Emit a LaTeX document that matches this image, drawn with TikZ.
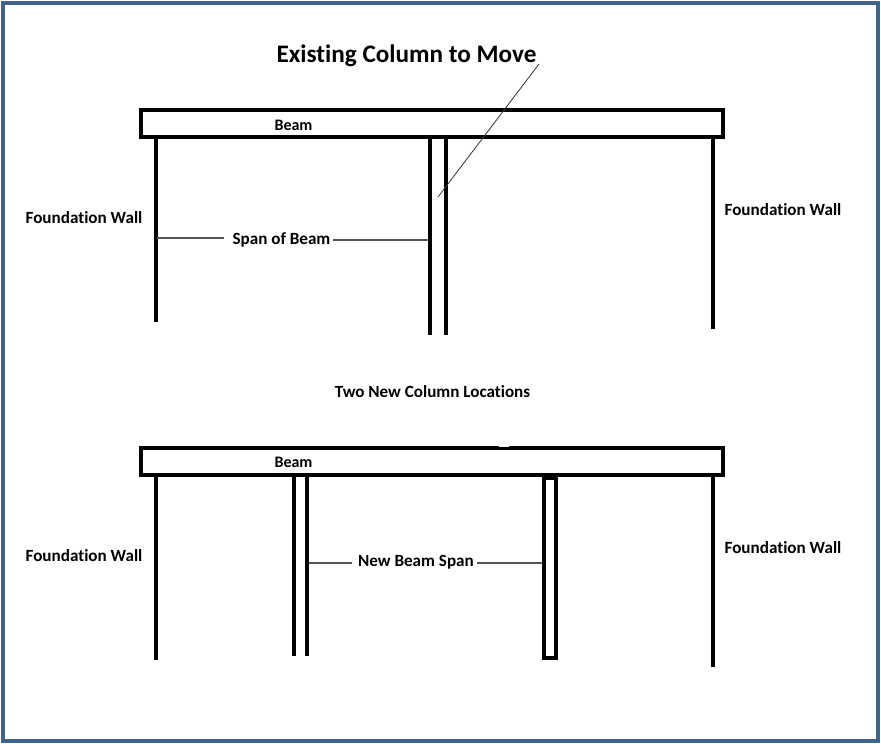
\documentclass[tikz,border=0pt]{standalone}
\usepackage{fontspec}
\setmainfont[Ligatures=NoCommon]{Carlito}
\definecolor{frameblue}{HTML}{41658A}
\definecolor{leadergrey}{HTML}{555555}
\tikzset{
  x=1pt,y=-1pt,
  frameline/.style={draw=frameblue,line width=4pt},
  beambox/.style={draw=black,line width=4pt,minimum width=582pt,minimum height=27pt,inner sep=0pt,anchor=north west},
  wallline/.style={draw=black,line width=4pt},
  colline/.style={draw=black,line width=4pt},
  colbox/.style={draw=black,line width=4pt,fill=white,inner sep=0pt,minimum width=12pt,minimum height=180pt,anchor=north west},
  leader/.style={draw=leadergrey,line width=1.1pt},
  slant/.style={draw=black!80,line width=.8pt},
  lab/.style={font=\fontsize{17.1}{19}\selectfont\bfseries,inner sep=0pt,text=black},
  beamlab/.style={lab,font=\fontsize{16}{18}\selectfont\bfseries},
  titlelab/.style={font=\fontsize{25.2}{28}\selectfont\bfseries,inner sep=0pt,text=black}
}
\begin{document}
\begin{tikzpicture}
\useasboundingbox (0,0) rectangle (881,744);
\fill[white] (0,0) rectangle (881,744);
\draw[frameline] (3,3) rectangle (878,741);

% Upper diagram
\node[beambox] (beamA) at (139,108) {};
\node[beamlab] (beamAlab) at (293.5,125) {Beam};
\node[titlelab] (title) at (406.5,55.5) {Existing Column to Move};
\coordinate (wallAa) at (155.5,138);  \coordinate (wallAb) at (155.5,322);
\coordinate (wallBa) at (712.5,138);  \coordinate (wallBb) at (712.5,329);
\coordinate (colAa) at (430,138);     \coordinate (colAb) at (430,335);
\coordinate (colBa) at (445.7,138);   \coordinate (colBb) at (445.7,335);
\draw[wallline] (wallAa) -- (wallAb);
\draw[wallline] (wallBa) -- (wallBb);
\draw[colline] (colAa) -- (colAb);
\draw[colline] (colBa) -- (colBb);
\node[lab] (fwA) at (84,218) {Foundation Wall};
\node[lab] (fwB) at (783,210) {Foundation Wall};
\node[lab] (span) at (281.5,240) {Span of Beam};
\coordinate (spanL) at (157,238);
\coordinate (spanLend) at (224,238);
\coordinate (spanR) at (428,240);
\coordinate (spanRend) at (333,240);
\draw[leader] (spanL) -- (spanLend);
\draw[leader] (spanRend) -- (spanR);
\coordinate (slantEnd) at (438,197);
\coordinate (slantStart) at (539,64);
\draw[slant] (slantStart) -- (slantEnd);

\node[lab] (twonew) at (432.5,392) {Two New Column Locations};

% Lower diagram
\node[beambox,minimum height=26.5pt] (beamB) at (139,446) {};
\draw[white,line width=1.5pt] (499,446.2) -- (509,446.2);
\node[beamlab] (beamBlab) at (293.5,462) {Beam};
\coordinate (wallCa) at (155.5,475);  \coordinate (wallCb) at (155.5,660);
\coordinate (wallDa) at (712.5,475);  \coordinate (wallDb) at (712.5,667);
\coordinate (colCa) at (294,475);     \coordinate (colCb) at (294,656);
\coordinate (colDa) at (307.3,475);   \coordinate (colDb) at (307.3,656);
\draw[wallline] (wallCa) -- (wallCb);
\draw[wallline] (wallDa) -- (wallDb);
\draw[colline] (colCa) -- (colCb);
\draw[colline] (colDa) -- (colDb);
\node[colbox] (colE) at (542,475.5) {};
\node[lab] (fwC) at (84,556) {Foundation Wall};
\node[lab] (fwD) at (783,548) {Foundation Wall};
\node[lab] (newspan) at (416,562) {New Beam Span};
\coordinate (nsL) at (309,563);
\coordinate (nsLend) at (352,563);
\coordinate (nsRend) at (477,563);
\coordinate (nsR) at (542,563);
\draw[leader] (nsL) -- (nsLend);
\draw[leader] (nsRend) -- (nsR);
\end{tikzpicture}
\end{document}
